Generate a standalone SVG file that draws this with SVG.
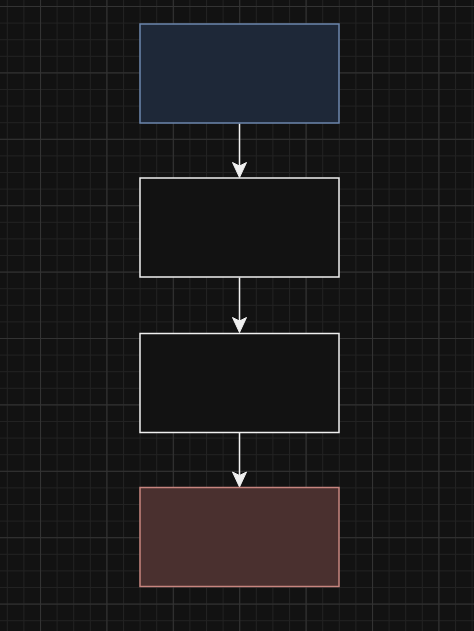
<svg xmlns="http://www.w3.org/2000/svg" width="474" height="631" viewBox="0 0 474 631">
<defs>
<pattern id="minor" x="6.8" y="6" width="16.6" height="16.6" patternUnits="userSpaceOnUse">
<path d="M0 0.5 H16.6 M0.5 0 V16.6" stroke="#222" stroke-width="1" fill="none"/>
</pattern>
<pattern id="major" x="40" y="6" width="66.4" height="66.4" patternUnits="userSpaceOnUse">
<path d="M0 0.5 H66.4 M0.5 0 V66.4" stroke="#333" stroke-width="1" fill="none"/>
</pattern>
</defs>
<style>
.node rect{stroke-width:1.5}
.plain{fill:#121212;stroke:#f0f0f0}
.edge{stroke:#f0f0f0;stroke-width:1.5;fill:none}
.head{fill:#f0f0f0;stroke:#f0f0f0;stroke-width:1}
</style>
<rect width="474" height="631" fill="#121212"/>
<rect width="474" height="631" fill="url(#minor)"/>
<rect width="474" height="631" fill="url(#major)"/>
<g id="connectors">
<path class="edge" d="M239.5 123.5 V170"/>
<path class="head" d="M239.5 177.5 L232.5 162.5 L239.5 166 L246.5 162.5 Z"/>
<path class="edge" d="M239.5 277.5 V325"/>
<path class="head" d="M239.5 332.5 L232.5 317.5 L239.5 321 L246.5 317.5 Z"/>
<path class="edge" d="M239.5 433 V480"/>
<path class="head" d="M239.5 487 L232.5 472 L239.5 475.5 L246.5 472 Z"/>
</g>
<g id="node1" class="node"><rect x="140" y="24" width="199" height="99" fill="#1e2838" stroke="#6c86ad"/></g>
<g id="node2" class="node"><rect class="plain" x="140" y="178" width="199" height="99"/></g>
<g id="node3" class="node"><rect class="plain" x="140" y="333.5" width="199" height="99"/></g>
<g id="node4" class="node"><rect x="140" y="487.5" width="199" height="99" fill="#4a302f" stroke="#c7857f"/></g>
</svg>
